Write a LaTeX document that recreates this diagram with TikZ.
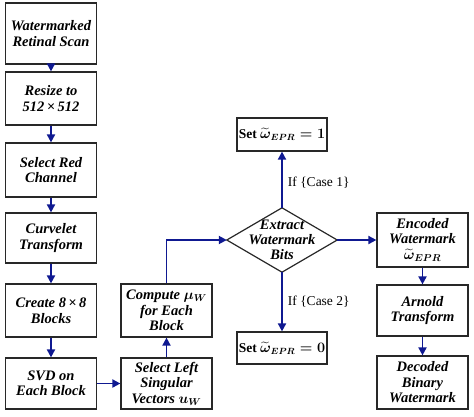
\documentclass[tikz,border=0pt]{standalone}
\usepackage{fontspec}
\usepackage{amsmath}
\setmainfont{Liberation Serif}
\usetikzlibrary{arrows.meta}
\definecolor{arrowblue}{RGB}{15,25,145}
\definecolor{boxline}{RGB}{40,40,40}
\tikzset{
  box/.style={draw=boxline, line width=1.2pt, minimum width=91pt, inner sep=1pt, align=center,
    font=\fontsize{14.5}{15.5}\selectfont\bfseries\itshape\boldmath},
  setbox/.style={draw=boxline, line width=1.2pt, minimum width=90pt, inner sep=1pt, align=center,
    font=\fontsize{13.5}{15}\selectfont\bfseries\boldmath},
  flow/.style={arrowblue, line width=1.8pt, -{Triangle[length=8pt,width=8pt]}},
  lbl/.style={text=black, font=\fontsize{13.5}{15}\selectfont, anchor=west, inner sep=0pt}
}
\begin{document}
\begin{tikzpicture}[x=1pt,y=-1pt]
\useasboundingbox (0,0) rectangle (474,416);
\node[box, minimum height=61pt] (n1) at (51,33.5) {Watermarked\\Retinal Scan};
\node[box, minimum height=53pt] (n2) at (51,98.5) {Resize to\\512\,×\,512};
\node[box, minimum height=54pt] (n3) at (51,170) {Select Red\\Channel};
\node[box, minimum height=50pt] (n4) at (51,238) {Curvelet\\Transform};
\node[box, minimum height=53pt] (n5) at (51,310.5) {Create 8\,×\,8\\Blocks};
\node[box, minimum height=51pt] (n6) at (51,383.5) {SVD on\\Each Block};
\node[box, minimum height=51pt] (n7) at (166.5,383.5) {Select Left\\Singular\\Vectors $u_W$};
\node[box, minimum height=53pt] (n8) at (166.5,310.5) {Compute $\mu_W$\\for Each\\Block};
\node[minimum width=110pt, minimum height=64pt, inner sep=0pt, align=center,
  font=\fontsize{14.5}{15}\selectfont\bfseries\itshape] (d) at (282,240) {Extract\\Watermark\\Bits};
\draw[boxline, line width=1.2pt] (d.west) -- (d.north) -- (d.east) -- (d.south) -- cycle;
\node[setbox, minimum height=33pt] (s1) at (282,134.5) {Set $\widetilde{\omega}_{EPR}=1$};
\node[setbox, minimum height=32pt] (s0) at (282,348) {Set $\widetilde{\omega}_{EPR}=0$};
\node[box, minimum height=54pt] (e) at (422.5,240) {Encoded\\Watermark\\$\widetilde{\omega}_{EPR}$};
\node[box, minimum height=51pt] (a) at (422.5,310.5) {Arnold\\Transform};
\node[box, minimum height=53pt] (dec) at (422.5,382.5) {Decoded\\Binary\\Watermark};
\draw[flow] (n1) -- (n2);
\draw[flow] (n2) -- (n3);
\draw[flow] (n3) -- (n4);
\draw[flow] (n4) -- (n5);
\draw[flow] (n5) -- (n6);
\draw[flow] (n6) -- (n7);
\draw[flow] (n7) -- (n8);
\draw[flow] (n8.north) |- (d.west);
\draw[flow] (d.north) -- node[lbl, pos=0.45, xshift=5pt] (c1) {If \{Case 1\}} (s1.south);
\draw[flow] (d.south) -- node[lbl, pos=0.5, xshift=5pt] (c2) {If \{Case 2\}} (s0.north);
\draw[flow] (d.east) -- (e.west);
\draw[flow] (e) -- (a);
\draw[flow] (a) -- (dec);
\end{tikzpicture}
\end{document}
